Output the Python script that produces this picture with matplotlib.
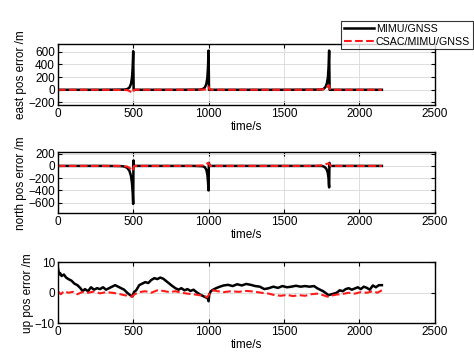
import matplotlib
matplotlib.use('Agg')
import numpy as np
from matplotlib import pyplot as plt

plt.rcParams['font.family'] = ['Liberation Sans', 'DejaVu Sans']

#------------------ data ------------------#
# east position error
t_east_ins = [0, 300, 440, 460, 475, 485, 492, 496, 499, 500, 503, 800, 940, 960, 975, 985, 992,
              996, 999, 1000, 1003, 1500, 1740, 1760, 1775, 1785, 1792, 1796, 1799, 1800, 1803, 2150]
e_east_ins = [0, 0, 3, 10, 35, 90, 190, 330, 520, 610, 0, 0, 3, 10, 35, 90, 190,
              340, 540, 620, 0, 0, 3, 10, 40, 100, 200, 350, 550, 620, 0, 0]
t_east_csac = [0, 300, 460, 475, 490, 500, 505, 900, 980, 995, 1000, 1005, 1020, 1700, 1770,
               1790, 1800, 1805, 1830, 2150]
e_east_csac = [0, 0, -5, -20, -40, -50, 0, 0, 5, 30, 50, 10, 0, 0, 10, 50, 70, 10, 0, 0]

# north position error
t_north_ins = [0, 300, 420, 440, 460, 475, 485, 492, 497, 499, 500, 502, 505, 900, 960, 975, 985,
               992, 997, 999, 1000, 1002, 1005, 1750, 1765, 1780, 1790, 1796, 1798, 1800, 1802,
               1805, 2150]
e_north_ins = [0, 0, -3, -10, -30, -80, -160, -280, -450, -580, -620, 90, 0, 0, -5, -20, -60,
               -140, -280, -380, -400, 50, 0, 0, -10, -40, -100, -200, -300, -350, 50, 0, 0]
t_north_csac = [0, 400, 460, 480, 495, 500, 505, 900, 970, 990, 1000, 1010, 1700, 1760, 1785,
                1800, 1810, 2150]
e_north_csac = [0, 0, -10, -40, -70, -80, 0, 0, 10, 40, 50, 0, 0, 10, 35, 40, 0, 0]

# up position error
t_up_ins = [0, 8, 15, 25, 40, 55, 70, 90, 110, 130, 150, 165, 180, 200, 220, 240, 260, 280, 300,
            320, 340, 360, 380, 400, 420, 440, 460, 480, 495, 505, 520, 540, 560, 580, 600, 620,
            640, 660, 680, 700, 720, 740, 760, 780, 800, 820, 840, 860, 880, 900, 920, 940, 960,
            980, 995, 1000, 1005, 1015, 1030, 1050, 1075, 1100, 1130, 1160, 1190, 1220, 1250,
            1280, 1310, 1340, 1370, 1400, 1430, 1460, 1490, 1520, 1550, 1580, 1610, 1640, 1670,
            1700, 1720, 1740, 1760, 1780, 1795, 1810, 1830, 1850, 1870, 1890, 1910, 1930, 1950,
            1970, 1990, 2010, 2030, 2050, 2070, 2090, 2110, 2130, 2150]
e_up_ins = [8.5, 6.0, 6.5, 5.5, 6.0, 5.0, 4.5, 4.0, 3.0, 2.5, 1.5, 0.5, 1.2, 0.5, 1.8, 1.0, 1.5,
            1.2, 1.8, 1.0, 1.5, 2.0, 2.5, 2.0, 1.5, 1.0, 0.0, -0.8, -1.2, 0.2, 0.8, 2.5, 3.0, 3.5,
            3.2, 4.2, 4.8, 4.5, 5.0, 4.6, 3.8, 3.0, 2.2, 1.5, 1.0, 1.5, 0.8, 1.2, 0.6, 1.0, 0.2,
            -0.5, -1.0, -1.5, -1.8, -2.8, -0.5, 0.5, 1.0, 1.5, 2.0, 2.4, 2.6, 2.2, 2.8, 2.4, 2.9,
            2.6, 2.2, 2.0, 1.2, 1.5, 2.0, 1.6, 2.2, 1.8, 2.0, 2.3, 2.0, 2.2, 2.0, 2.2, 1.5, 1.0,
            0.5, -0.2, -0.8, -0.6, -0.3, 0.0, 0.8, 0.5, 1.2, 1.5, 1.0, 1.4, 1.8, 1.2, 2.0, 1.6,
            1.0, 2.4, 1.8, 2.5, 2.5]
t_up_csac = [0, 20, 40, 70, 100, 130, 160, 200, 240, 280, 320, 360, 400, 440, 470, 490, 510, 540,
             580, 620, 660, 700, 740, 780, 820, 860, 900, 940, 970, 990, 1005, 1030, 1060, 1100,
             1150, 1200, 1250, 1300, 1350, 1400, 1440, 1480, 1520, 1560, 1600, 1640, 1680, 1720,
             1760, 1790, 1810, 1850, 1890, 1930, 1970, 2010, 2050, 2090, 2120, 2150]
e_up_csac = [0.5, -0.5, 0.5, 0.0, 0.3, -0.5, 0.2, 0.0, 0.4, -0.2, 0.2, 0.0, -0.3, -0.8, -1.0,
             -1.3, -0.5, 0.2, 0.5, 0.0, 0.8, 0.6, 0.2, 0.5, 0.0, -0.3, -0.5, -0.8, -1.0, -1.5,
             -0.5, 0.8, 0.5, 0.2, 0.5, 0.3, 0.6, 0.4, 0.0, -0.3, -0.8, -1.0, -0.7, -1.1, -0.8,
             -1.0, -0.5, -0.3, -0.8, -1.3, -1.0, -0.6, -0.4, 0.0, -0.3, 0.2, 0.0, 0.5, 0.0, 0.8]

labels = ['MIMU/GNSS', 'CSAC/MIMU/GNSS']
ylabels = ['east pos error /m', 'north pos error /m', 'up pos error /m']
yticks = [[-200, 0, 200, 400, 600], [-600, -400, -200, 0, 200], [-10, 0, 10]]
ylims = [(-240, 720), (-770, 220), (-10, 10)]
xticks = [0, 500, 1000, 1500, 2000, 2500]

series = [(t_east_ins, e_east_ins, t_east_csac, e_east_csac),
          (t_north_ins, e_north_ins, t_north_csac, e_north_csac),
          (t_up_ins, e_up_ins, t_up_csac, e_up_csac)]

#------------------------- plot -------------------------#
fig = plt.figure(figsize=(4.74, 3.57), dpi=100)
bottoms = [0.706, 0.403, 0.095]
fs = 8.5
for i in range(3):
    ax = fig.add_axes([0.122, bottoms[i], 0.795, 0.170])
    t1, e1, t2, e2 = series[i]
    l1, = ax.plot(t1, e1, 'k-', lw=1.8, label=labels[0])
    l2, = ax.plot(t2, e2, '--', color='#ff1a1a', lw=1.5, label=labels[1])
    ax.set_xlim(0, 2500)
    ax.set_ylim(*ylims[i])
    ax.set_xticks(xticks)
    ax.set_yticks(yticks[i])
    ax.grid(True, color='#dddddd', lw=0.7)
    ax.set_axisbelow(True)
    ax.tick_params(labelsize=fs, length=3, direction='in', top=True, right=True, pad=2)
    ax.set_xlabel('time/s', fontsize=fs, labelpad=1)
    ax.set_ylabel(ylabels[i], fontsize=fs, labelpad=1)
    for s in ax.spines.values():
        s.set_linewidth(1.0)
    if i == 0:
        leg = fig.legend(handles=[l1, l2], loc='upper right', bbox_to_anchor=(0.997, 0.94),
                         fontsize=7.7, frameon=True, fancybox=False, edgecolor='k',
                         handlelength=2.8, borderpad=0.25, labelspacing=0.25, handletextpad=0.2,
                         borderaxespad=0.0)
        leg.get_frame().set_linewidth(0.8)

plt.savefig('out.png', dpi=100)
